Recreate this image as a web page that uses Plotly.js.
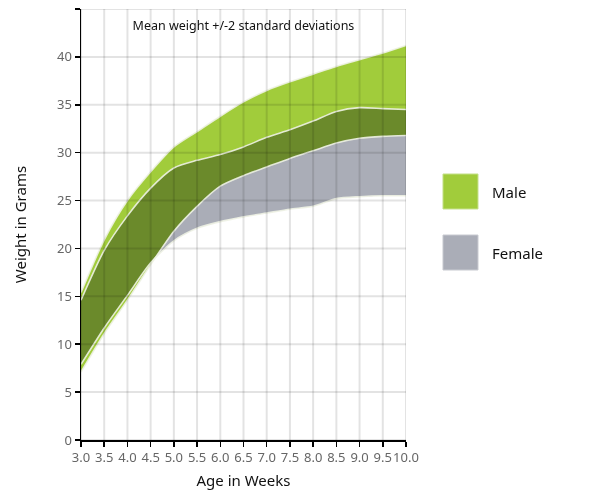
<!DOCTYPE html>
<html>
<head>
<meta charset="utf-8">
<script src="https://cdn.plot.ly/plotly-3.0.1.min.js"></script>
<style>
  html, body { margin: 0; padding: 0; background: #fff; }
  #chart { width: 605px; height: 500px; }
</style>
</head>
<body>
<div id="chart"></div>
<script>
// Age in weeks
const weeks = [3.0, 3.5, 4.0, 4.5, 5.0, 5.5, 6.0, 6.5, 7.0, 7.5, 8.0, 8.5, 9.0, 9.5, 10.0];

// Mean weight +/- 2 SD, in grams
const maleLower   = [7.1, 11.1, 14.6, 18.3, 21.8, 24.4, 26.5, 27.6, 28.5, 29.4, 30.2, 31.0, 31.5, 31.7, 31.8];
const maleUpper   = [15.4, 20.9, 25.0, 28.0, 30.6, 32.2, 33.8, 35.3, 36.5, 37.4, 38.2, 39.0, 39.7, 40.4, 41.2];
const femaleLower = [7.9, 11.7, 15.1, 18.5, 20.8, 22.1, 22.8, 23.3, 23.7, 24.1, 24.4, 25.2, 25.4, 25.5, 25.5];
const femaleUpper = [14.6, 19.8, 23.4, 26.3, 28.4, 29.2, 29.8, 30.6, 31.6, 32.4, 33.3, 34.3, 34.7, 34.6, 34.5];

// Axis ticks
const xTickVals = [3.0, 3.5, 4.0, 4.5, 5.0, 5.5, 6.0, 6.5, 7.0, 7.5, 8.0, 8.5, 9.0, 9.5, 10.0];
const xTickText = ["3.0", "3.5", "4.0", "4.5", "5.0", "5.5", "6.0", "6.5", "7.0", "7.5", "8.0", "8.5", "9.0", "9.5", "10.0"];
const yTickVals = [0, 5, 10, 15, 20, 25, 30, 35, 40, 45];

const groups = ["Male", "Female"];

const MALE = "#a1cc3b";
const FEMALE = "#aaadb7";
const EDGE = "rgba(238,242,228,0.9)";
const GRID = "rgba(0,0,0,0.11)";
const FONT = "Noto Sans, Open Sans, sans-serif";

const curve = { shape: "spline", smoothing: 0.7 };

function band(lower, upper, color, name) {
  return [
    { x: weeks, y: lower, mode: "lines", name: name,
      line: Object.assign({ width: 0, color: color }, curve),
      hoverinfo: "skip", showlegend: false },
    { x: weeks, y: upper, mode: "lines", name: name, fill: "tonexty", fillcolor: color,
      line: Object.assign({ width: 0, color: color }, curve),
      hoverinfo: "skip", showlegend: false }
  ];
}

function edge(values) {
  return { x: weeks, y: values, mode: "lines",
    line: Object.assign({ width: 1.6, color: EDGE }, curve),
    hoverinfo: "skip", showlegend: false };
}

const data = []
  .concat(band(maleLower, maleUpper, MALE, groups[0]))
  .concat(band(femaleLower, femaleUpper, FEMALE, groups[1]))
  .concat([edge(maleLower), edge(maleUpper), edge(femaleLower), edge(femaleUpper)]);

// Grid drawn over the bands so it shows through them
const gridShapes = []
  .concat(xTickVals.map(function (v) {
    return { type: "line", layer: "above", xref: "x", yref: "paper", x0: v, x1: v, y0: 0, y1: 1,
      line: { color: GRID, width: 2 } };
  }))
  .concat(yTickVals.map(function (v) {
    return { type: "line", layer: "above", xref: "paper", yref: "y", x0: 0, x1: 1, y0: v, y1: v,
      line: { color: GRID, width: 2 } };
  }));

const axisCommon = {
  showline: true, linecolor: "#000", linewidth: 1.5,
  ticks: "outside", ticklen: 5, tickwidth: 1.5, tickcolor: "#000",
  showgrid: false, zeroline: false, fixedrange: true,
  layer: "above traces",
  tickfont: { family: FONT, size: 13, color: "#666" }
};

const layout = {
  width: 605, height: 500,
  margin: { l: 81, r: 199, t: 9, b: 60 },
  paper_bgcolor: "#fff", plot_bgcolor: "#fff",
  font: { family: FONT, color: "#111" },
  title: {
    text: "Mean weight +/-2 standard deviations",
    font: { family: FONT, size: 12.5, color: "#111" },
    x: 0.5, xref: "paper", xanchor: "center",
    y: 0.961, yref: "paper", yanchor: "middle"
  },
  xaxis: Object.assign({}, axisCommon, {
    range: [3, 10], tickangle: 0,
    tickmode: "array", tickvals: xTickVals, ticktext: xTickText,
    title: { text: "Age in Weeks", font: { family: FONT, size: 15, color: "#111" }, standoff: 10 }
  }),
  yaxis: Object.assign({}, axisCommon, {
    range: [0, 45],
    tickmode: "array", tickvals: yTickVals,
    title: { text: "Weight in Grams", font: { family: FONT, size: 15, color: "#111" }, standoff: 27 }
  }),
  showlegend: false,
  shapes: gridShapes.concat([
    { type: "rect", xref: "paper", yref: "paper", x0: 1.1138, x1: 1.2215, y0: 0.536, y1: 0.6172,
      fillcolor: MALE, line: { width: 1, color: "#c4e08a" } },
    { type: "rect", xref: "paper", yref: "paper", x0: 1.1138, x1: 1.2215, y0: 0.3944, y1: 0.4756,
      fillcolor: FEMALE, line: { width: 1, color: "#c8cad0" } }
  ]),
  annotations: [
    { text: groups[0], xref: "paper", yref: "paper", x: 1.2585, y: 0.5754,
      xanchor: "left", yanchor: "middle", showarrow: false,
      font: { family: FONT, size: 15, color: "#111" } },
    { text: groups[1], xref: "paper", yref: "paper", x: 1.2585, y: 0.4339,
      xanchor: "left", yanchor: "middle", showarrow: false,
      font: { family: FONT, size: 15, color: "#111" } }
  ]
};

Plotly.newPlot("chart", data, layout, { displayModeBar: false, staticPlot: true }).then(function (gd) {
  // Where the two bands overlap their colours multiply into a darker tone
  gd.querySelectorAll(".scatterlayer .js-fill").forEach(function (p) {
    p.style.mixBlendMode = "multiply";
  });
});
</script>
</body>
</html>
